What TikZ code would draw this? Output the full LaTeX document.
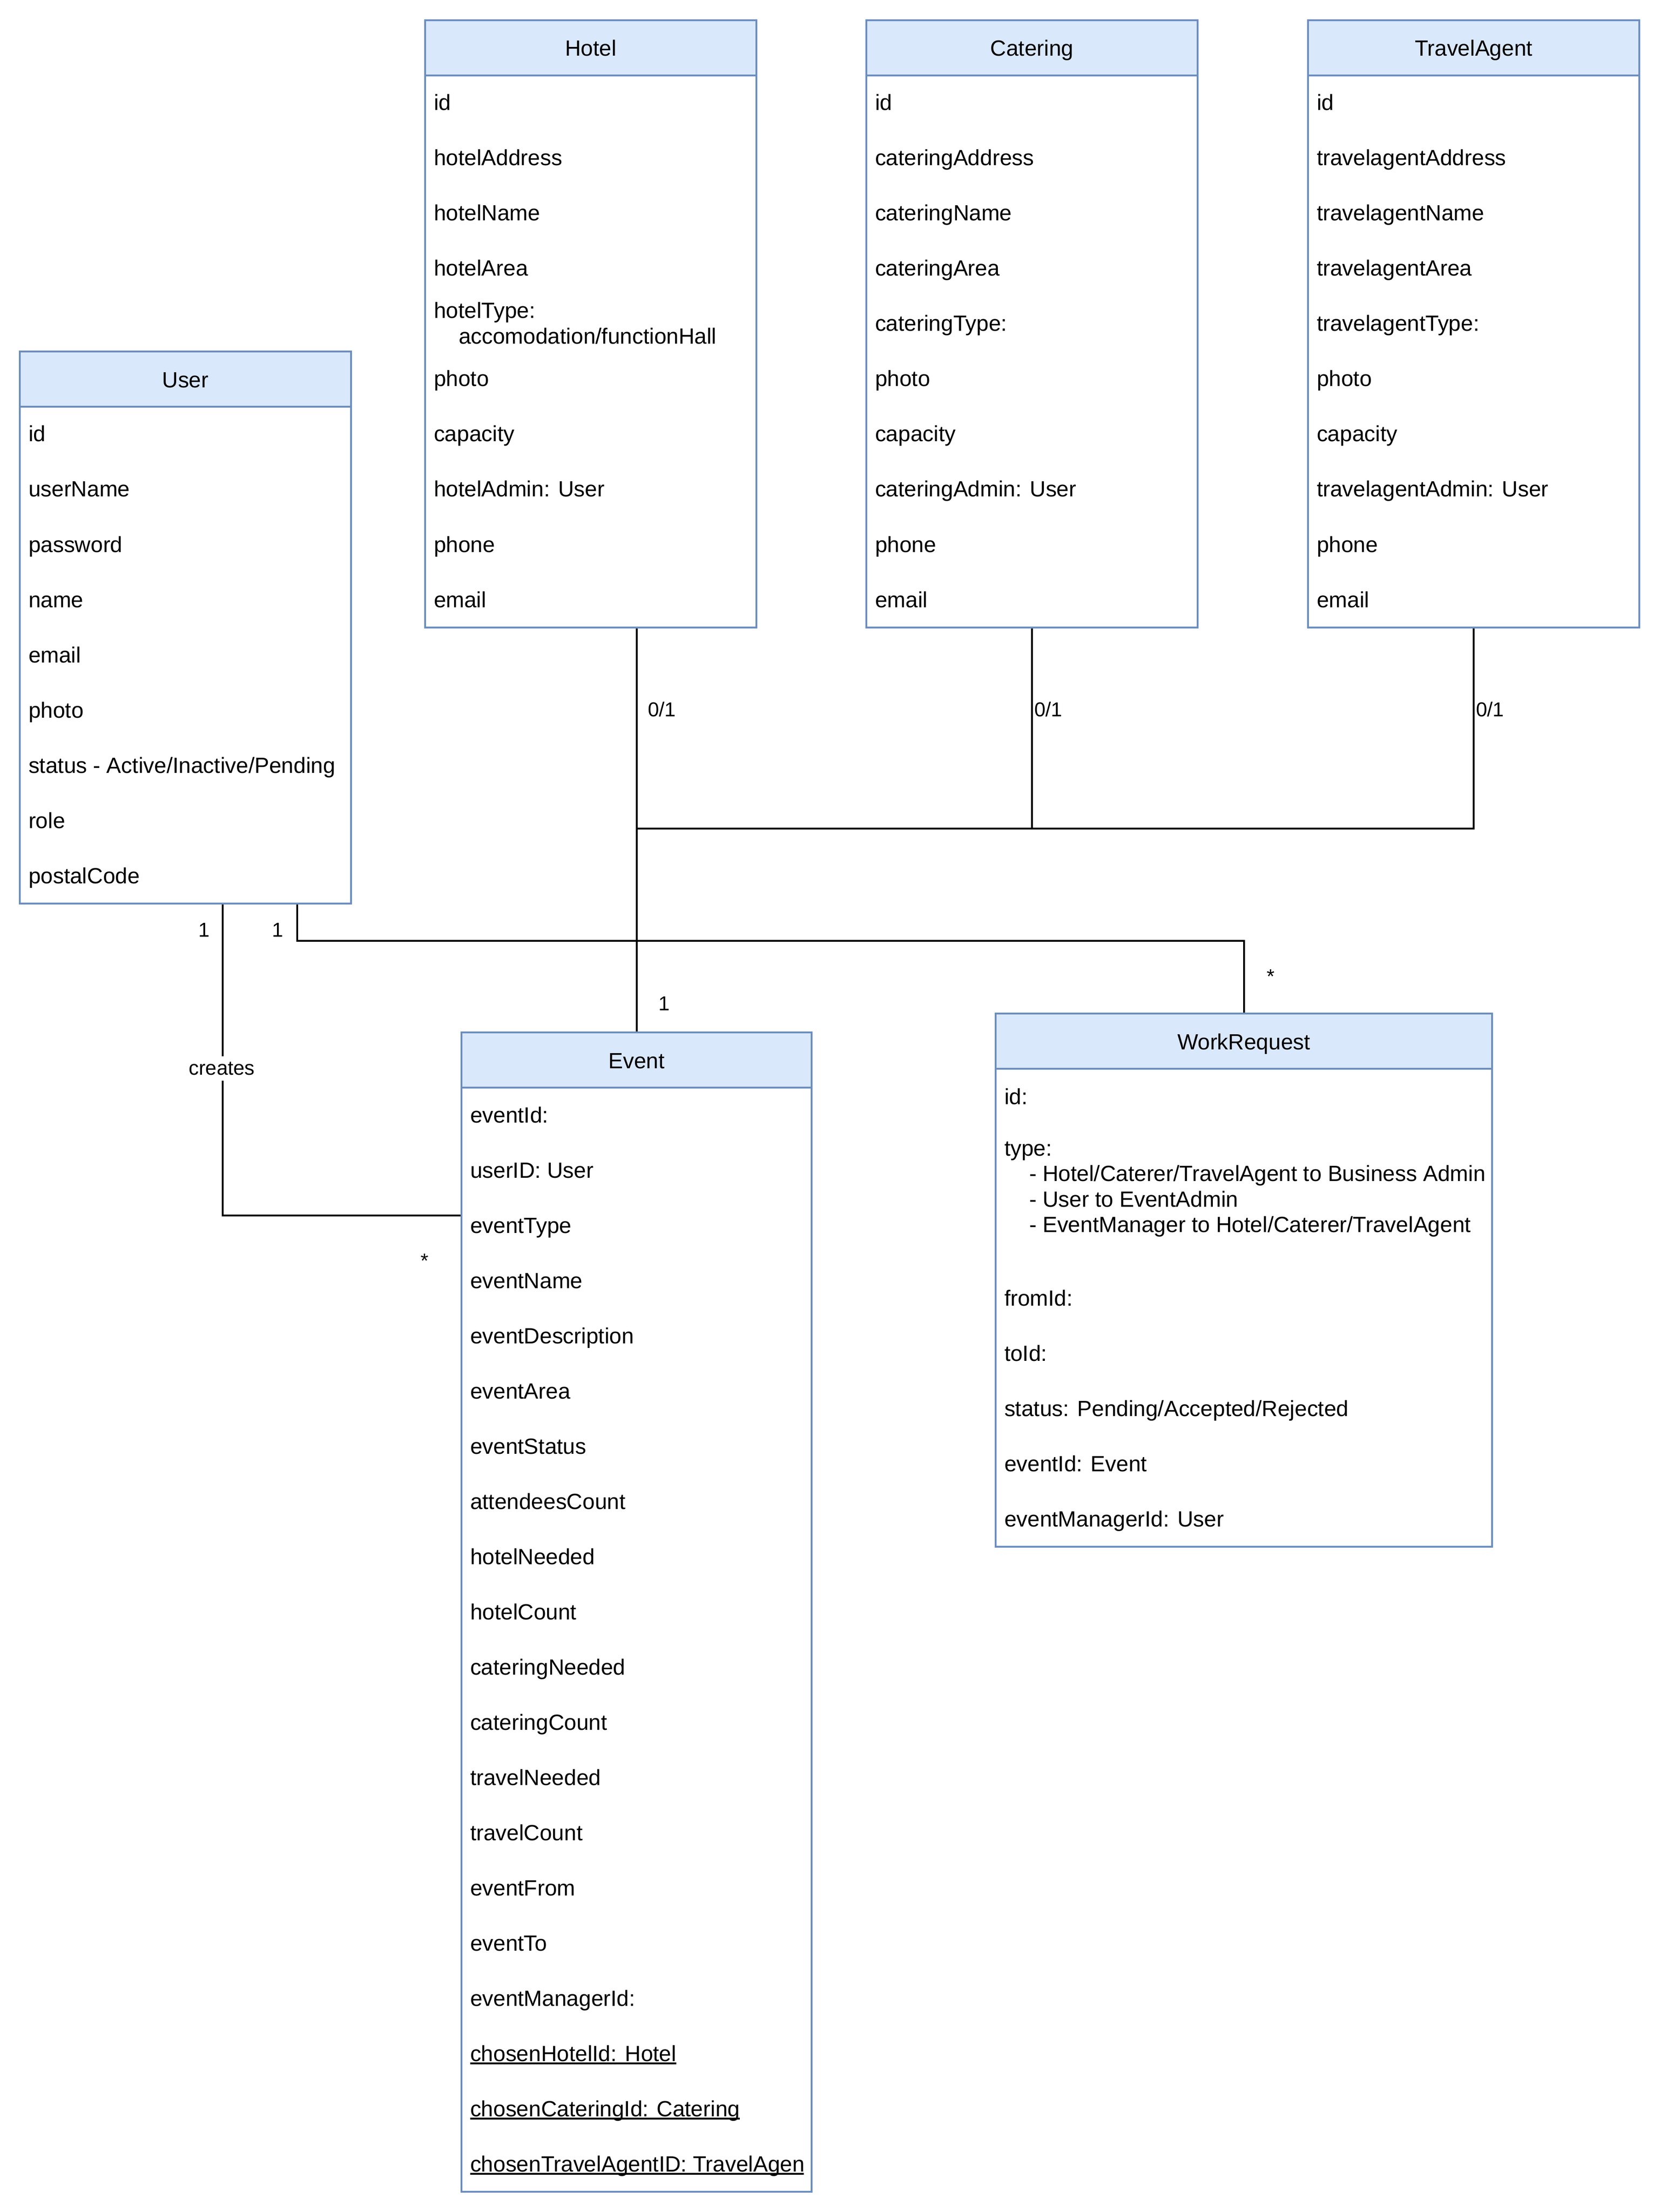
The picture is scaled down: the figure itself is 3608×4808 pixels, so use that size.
\documentclass[tikz,border=0pt]{standalone}
\usepackage{fontspec}
\setmainfont{Liberation Sans}
\usetikzlibrary{calc}
\definecolor{hdfill}{HTML}{DAE8FC}
\definecolor{hdline}{HTML}{6C8EBF}
\newcommand{\fieldfont}{\fontsize{9.56}{11.47}\selectfont}
\newcommand{\lblfont}{\fontsize{8.76}{10.5}\selectfont}
\newcommand{\ulx}[1]{\setbox0\hbox{#1}\rlap{\rule[-1.3pt]{\wd0}{0.7pt}}\box0}
\tikzset{
  classbody/.style={draw=hdline, line width=0.8pt, fill=white, anchor=north west, inner sep=0pt},
  classhead/.style={draw=hdline, line width=0.8pt, fill=hdfill, anchor=north west, inner sep=0pt,
    minimum height=24pt, text height=15.6pt, text depth=8.4pt, font=\fieldfont},
  field/.style={anchor=base west, inner sep=0pt, font=\fieldfont},
  elabel/.style={anchor=base west, inner sep=0pt, font=\lblfont},
  conn/.style={draw=black, line width=0.8pt},
}
\begin{document}
\begin{tikzpicture}[x=0.2pt,y=-0.2pt]
\useasboundingbox (0,0) rectangle (3608,4808);

% ---------------- Hotel ----------------
\node[classbody, minimum width=144pt, minimum height=264pt] (hotel) at (922,42) {};
\node[classhead, minimum width=144pt] (hotelh) at (922,42) {Hotel};
\foreach \t [count=\i from 0] in {id,hotelAddress,hotelName,hotelArea}
  \node[field] (hotelf\i) at (942,{240+120*\i}) {\t};
\node[field] (hotelf4) at (942,692) {hotelType:};
\node[field] (hotelf4b) at (996,748) {accomodation/functionHall};
\foreach \t [count=\i from 5] in {photo,capacity,hotelAdmin: User,phone,email}
  \node[field] (hotelf\i) at (942,{240+120*\i}) {\t};

% ---------------- Catering ----------------
\node[classbody, minimum width=144pt, minimum height=264pt] (catering) at (1881,42) {};
\node[classhead, minimum width=144pt] (cateringh) at (1881,42) {Catering};
\foreach \t [count=\i from 0] in {id,cateringAddress,cateringName,cateringArea,cateringType:,photo,capacity,cateringAdmin: User,phone,email}
  \node[field] (cateringf\i) at (1901,{240+120*\i}) {\t};

% ---------------- TravelAgent ----------------
\node[classbody, minimum width=144pt, minimum height=264pt] (ta) at (2841,42) {};
\node[classhead, minimum width=144pt] (tah) at (2841,42) {TravelAgent};
\foreach \t [count=\i from 0] in {id,travelagentAddress,travelagentName,travelagentArea,travelagentType:,photo,capacity,travelagentAdmin: User,phone,email}
  \node[field] (taf\i) at (2861,{240+120*\i}) {\t};

% ---------------- User ----------------
\node[classbody, minimum width=144pt, minimum height=240pt] (user) at (41,762) {};
\node[classhead, minimum width=144pt] (userh) at (41,762) {User};
\foreach \t [count=\i from 0] in {id,userName,password,name,email,photo,status - Active/Inactive/Pending,role,postalCode}
  \node[field] (userf\i) at (61,{960+120*\i}) {\t};

% ---------------- Event ----------------
\node[classbody, minimum width=152.2pt, minimum height=504pt] (event) at (1001,2242) {};
\node[classhead, minimum width=152.2pt] (eventh) at (1001,2242) {Event};
\foreach \t [count=\i from 0] in {eventId:,userID: User,eventType,eventName,eventDescription,eventArea,eventStatus,attendeesCount,hotelNeeded,hotelCount,cateringNeeded,cateringCount,travelNeeded,travelCount,eventFrom,eventTo,eventManagerId:}
  \node[field] (eventf\i) at (1021,{2440+120*\i}) {\t};
\node[field] (eventf17) at (1021,4480) {\ulx{chosenHotelId: Hotel}};
\node[field] (eventf18) at (1021,4600) {\ulx{chosenCateringId: Catering}};
\begin{scope}
  \clip (1001,4660) rectangle (1747,4760);
  \node[field] (eventf19) at (1021,4720) {\ulx{chosenTravelAgentID: TravelAgent}};
\end{scope}

% ---------------- WorkRequest ----------------
\node[classbody, minimum width=215.8pt, minimum height=231.8pt] (wr) at (2162,2201) {};
\node[classhead, minimum width=215.8pt] (wrh) at (2162,2201) {WorkRequest};
\node[field] (wrf0) at (2182,2400) {id:};
\node[field] (wrf1) at (2182,2512) {type:};
\node[field] (wrf1a) at (2236,2567) {- Hotel/Caterer/TravelAgent to Business Admin};
\node[field] (wrf1b) at (2236,2623) {- User to EventAdmin};
\node[field] (wrf1c) at (2236,2678) {- EventManager to Hotel/Caterer/TravelAgent};
\foreach \t [count=\i from 2] in {fromId:,toId:,status: Pending/Accepted/Rejected,eventId: Event,eventManagerId: User}
  \node[field] (wrf\i) at (2182,{2838+120*(\i-2)}) {\t};

% ---------------- Connectors ----------------
\draw[conn] (event.north) -- (event.north |- hotel.south);
\coordinate (join) at (1382,1801);
\draw[conn] (catering.south) |- (join);
\draw[conn] (ta.south) |- (catering.south |- join);

\coordinate (uwr) at ($(user.south west)!0.835!(user.south east)$);
\draw[conn] (uwr) -- ++(0,79) -| (wr.north);

\coordinate (ucr) at ($(user.south west)!0.6125!(user.south east)$);
\coordinate (ecr) at (1001,2642);
\draw[conn] (ucr) |- (ecr);
\node[anchor=base, inner xsep=1pt, inner ysep=0pt, text height=8pt, text depth=2.6pt, fill=white, font=\lblfont] (creates) at (482,2336) {creates};

% ---------------- Labels ----------------
\node[elabel] (l01h) at (1407,1557) {0/1};
\node[elabel] (l01c) at (2247,1557) {0/1};
\node[elabel] (l01t) at (3207,1557) {0/1};
\node[elabel] (l1a) at (430,2036) {1};
\node[elabel] (l1b) at (590,2036) {1};
\node[elabel] (l1e) at (1430,2196) {1};
\node[elabel] (lsa) at (913,2755) {*};
\node[elabel] (lsw) at (2752,2137) {*};
\end{tikzpicture}
\end{document}
